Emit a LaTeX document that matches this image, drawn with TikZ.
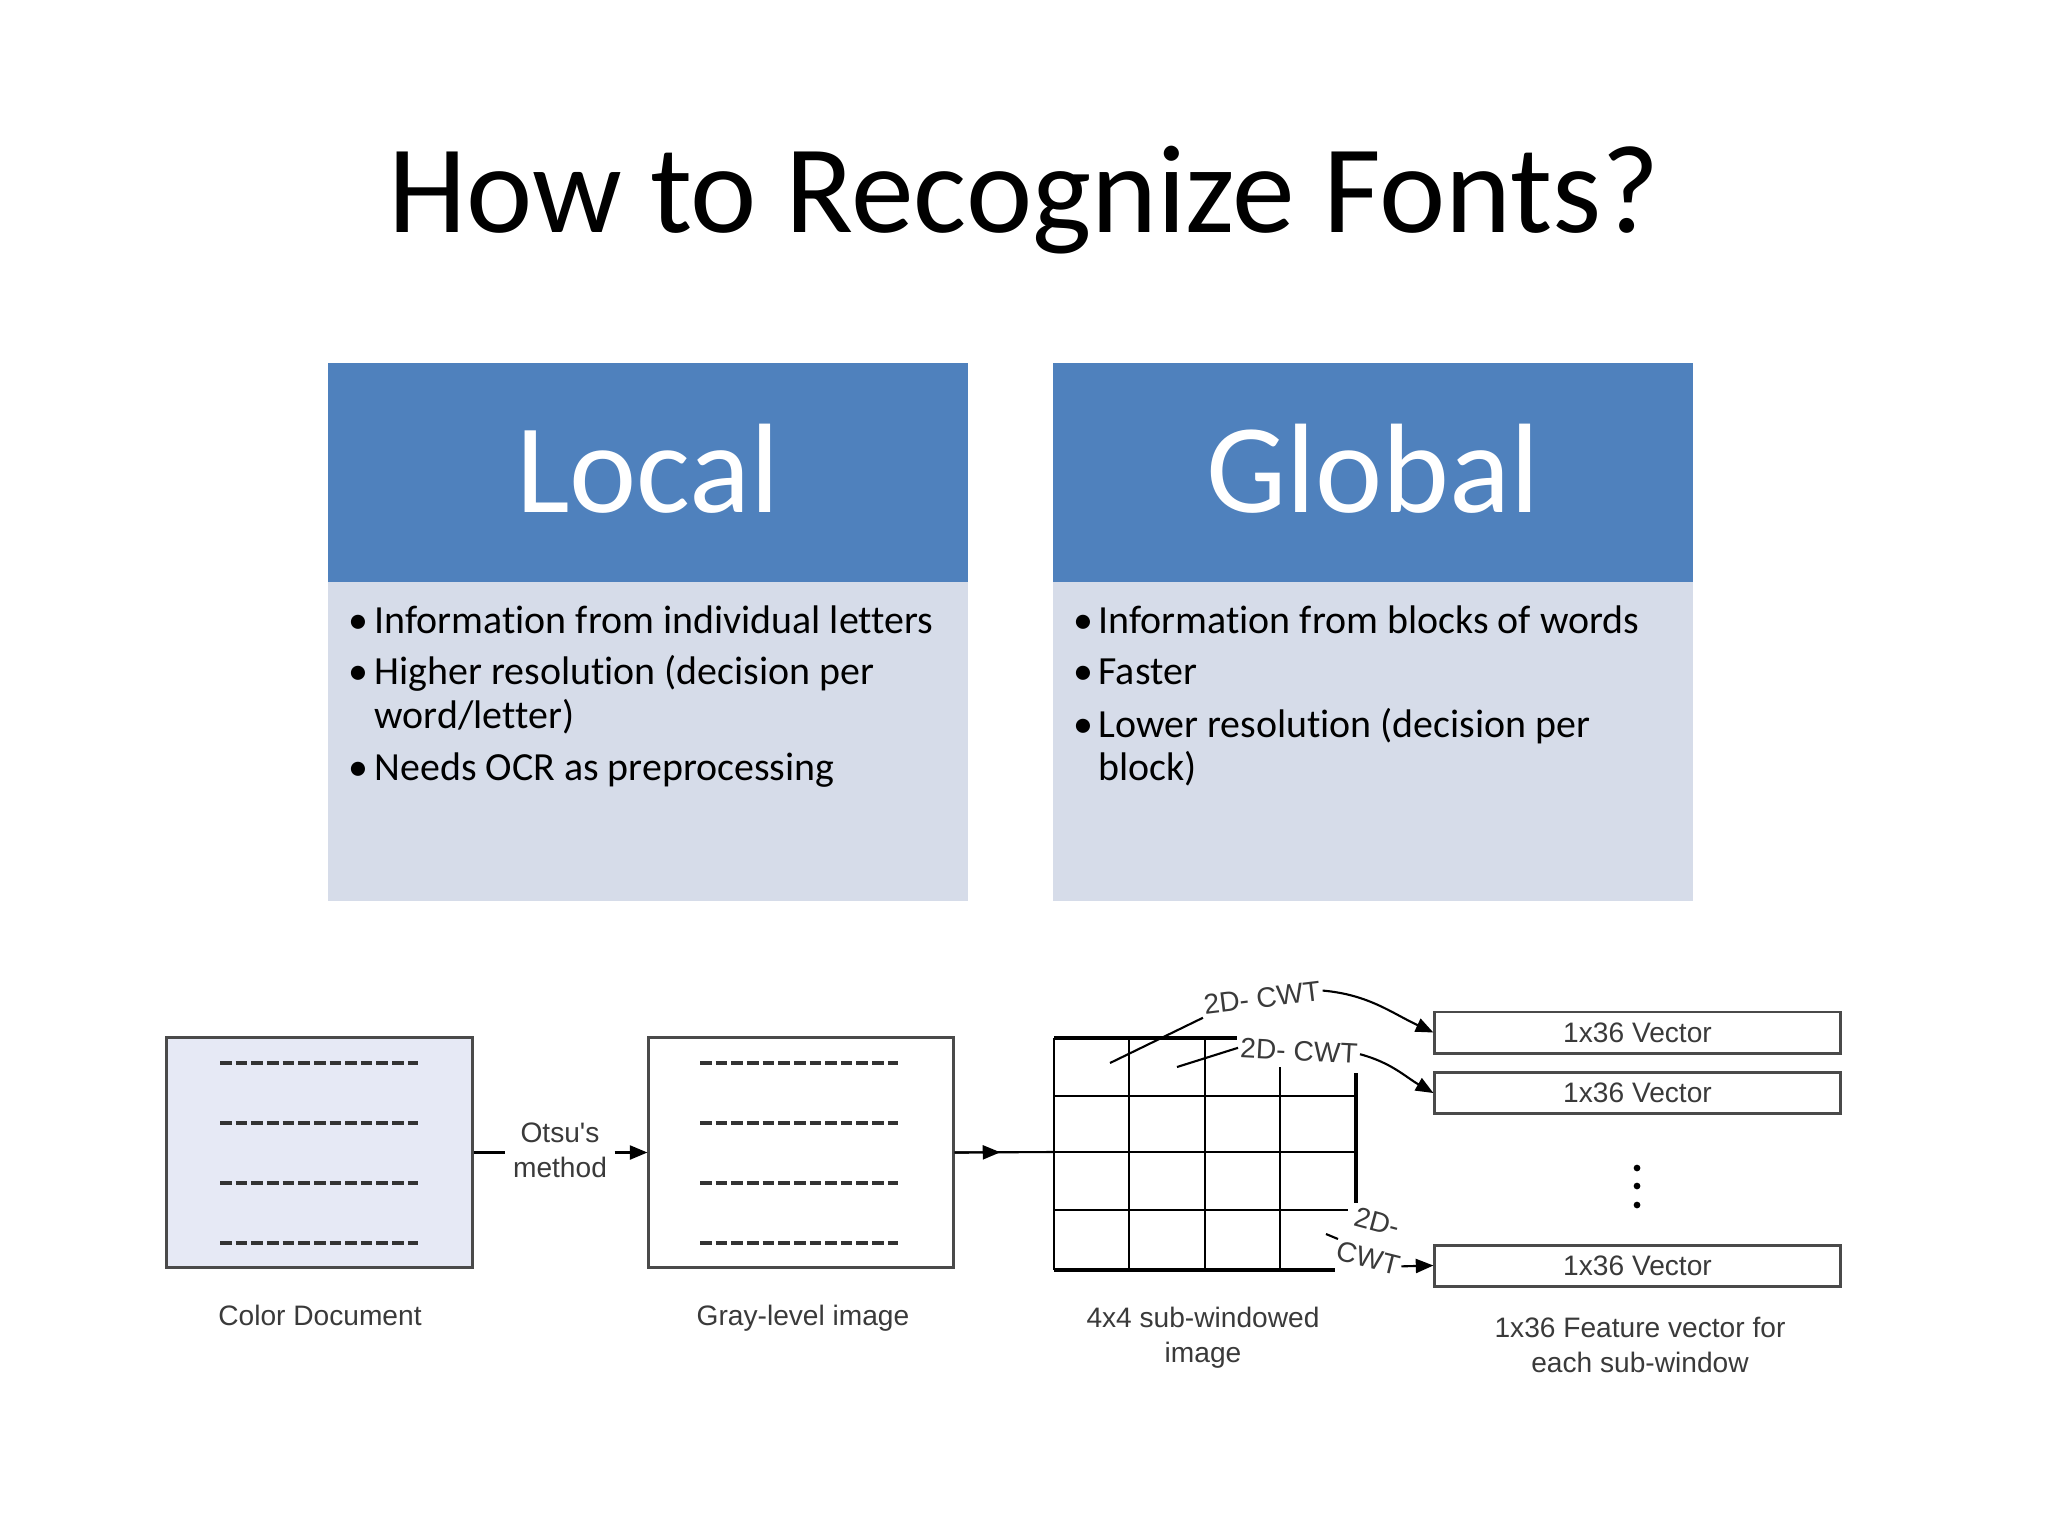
\documentclass[tikz,border=0pt]{standalone}
\usepackage{fontspec}
\setmainfont{Carlito}[Ligatures={TeX,NoCommon}]
\newfontfamily\diagfont{Liberation Sans}
\usetikzlibrary{positioning,calc,arrows.meta}
\definecolor{hdblue}{HTML}{4F81BD}
\definecolor{bodyblue}{HTML}{D6DCE9}
\definecolor{docfill}{HTML}{E6E9F5}
\definecolor{edgegray}{HTML}{4A4A4A}
\definecolor{inkgray}{HTML}{3A3A3A}
\tikzset{>={Triangle[length=5pt,width=4pt]}}
\tikzset{
  itemtext/.style={anchor=base west, inner sep=0pt, font=\fontsize{11.35}{13}\selectfont},
  hdtext/.style={anchor=base, inner sep=0pt, text=white, font=\fontsize{36.2}{40}\selectfont},
  docbox/.style={draw=edgegray, line width=0.85pt, inner sep=0pt},
  txtline/.style={draw=black!80, line width=1.35pt, dash pattern=on 3.3pt off 1.15pt},
  caption/.style={inner sep=0pt, text=inkgray},
  conn/.style={draw=black, line width=0.6pt},
  gridline/.style={draw=black, line width=0.75pt},
  cwt/.style={inner sep=0.5pt, text=inkgray},
  vecbox/.style={draw=edgegray, line width=0.85pt, inner sep=0pt, minimum width=4.05cm, minimum height=0.41cm, text=inkgray}
}

\begin{document}
\begin{tikzpicture}[x=0.01cm, y=-0.01cm]
\useasboundingbox (0,0) rectangle (2048,1536);
\fill[white] (0,0) rectangle (2048,1536);

\node[anchor=base, inner sep=0pt, font=\fontsize{35.7}{42}\selectfont] (title) at (1024,232) {How to Recognize Fonts?};

\fill[hdblue] (328,363) rectangle (968,582);
\fill[bodyblue] (328,582) rectangle (968,901);
\fill[hdblue] (1053,363) rectangle (1693,582);
\fill[bodyblue] (1053,582) rectangle (1693,901);
\node[hdtext] (localhd) at (648,512) {Local};
\node[hdtext] (globalhd) at (1373,512) {Global};

\node[itemtext] (lb1) at (348,633) {\textbullet};
\node[itemtext] (li1) at (374,633) {Information from individual letters};
\node[itemtext] (lb2) at (348,684) {\textbullet};
\node[itemtext] (li2) at (374,684) {Higher resolution (decision per};
\node[itemtext] (li2b) at (374,728) {word/letter)};
\node[itemtext] (lb3) at (348,780) {\textbullet};
\node[itemtext] (li3) at (374,780) {Needs OCR as preprocessing};

\node[itemtext] (gb1) at (1073,633) {\textbullet};
\node[itemtext] (gi1) at (1098,633) {Information from blocks of words};
\node[itemtext] (gb2) at (1073,684) {\textbullet};
\node[itemtext] (gi2) at (1098,684) {Faster};
\node[itemtext] (gb3) at (1073,737) {\textbullet};
\node[itemtext] (gi3) at (1098,737) {Lower resolution (decision per};
\node[itemtext] (gi3b) at (1098,780) {block)};

\begin{scope}[font=\diagfont\fontsize{8}{10}\selectfont]
\node[docbox, fill=docfill, minimum width=3.05cm, minimum height=2.29cm] (doc) at (319.5,1152.5) {};
\foreach \y in {1063,1123,1183,1243}
  \draw[txtline] (220,\y) -- (418,\y);
\node[caption, anchor=base] (doccap) at (320,1325) {Color Document};

\node[docbox, fill=white, minimum width=3.04cm, minimum height=2.29cm] (gray) at (801,1152.5) {};
\foreach \y in {1063,1123,1183,1243}
  \draw[txtline] (700,\y) -- (898,\y);
\node[caption, anchor=base] (graycap) at (803,1325) {Gray-level image};

\node[caption, align=center, inner xsep=2pt] (otsu) at (560,1150) {Otsu's\\method};
\draw[conn] (doc.east) -- (doc.east -| otsu.west);
\draw[conn,->] (otsu.east |- doc.east) -- (gray.west);

\coordinate (gridin) at (1054,1152);
\draw[conn] (gray.east) -- (gridin);
\draw[conn,->] (gray.east) -- ($(gray.east)!0.46!(gridin)$);

\foreach \x in {1054,1129,1205}
  \draw[gridline] (\x,1038) -- (\x,1270);
\draw[gridline] (1280,1067) -- (1280,1270);
\draw[gridline, line width=1.15pt] (1356,1073) -- (1356,1203);
\draw[gridline, line width=0.9pt] (1054,1038) -- (1237,1038);
\foreach \y in {1096,1152}
  \draw[gridline] (1054,\y) -- (1356,\y);
\draw[gridline] (1054,1210) -- (1348,1210);
\draw[gridline, line width=1.15pt] (1054,1270) -- (1335,1270);
\node[caption, align=center] (gridcap) at (1203,1338) {4x4 sub-windowed\\image};

\node[vecbox] (vec1) at (1637.5,1032.5) {1x36 Vector};
\node[vecbox] (vec2) at (1637.5,1093) {1x36 Vector};
\node[vecbox] (vec3) at (1637.5,1265.5) {1x36 Vector};
\foreach \y in {1168,1186,1205}
  \filldraw (1637,\y) circle (2.6);
\node[caption, align=center] (featcap) at (1640,1345) {1x36 Feature vector for\\each sub-window};

\node[cwt, rotate=7] (cwta) at (1262,998) {2D- CWT};
\coordinate (cwtafoot) at (1110,1063);
\draw[conn] (cwtafoot) -- (cwta.south west);
\draw[conn,->] (cwta.east) to[out=-5,in=155] (vec1.west);

\node[cwt, rotate=-3] (cwtb) at (1299,1051) {2D- CWT};
\coordinate (cwtbfoot) at (1177,1067);
\draw[conn] (cwtbfoot) -- (cwtb.west);
\draw[conn,->] (cwtb.east) to[out=-15,in=150] (vec2.west);

\node[cwt, rotate=-15] (cwtc1) at (1377,1222) {2D-};
\node[cwt, rotate=-14] (cwtc2) at (1368,1258) {CWT};
\draw[conn] (1326,1234) -- (1338,1239);
\draw[conn,->] (cwtc2.east) -- (vec3.west);
\end{scope}
\end{tikzpicture}
\end{document}
